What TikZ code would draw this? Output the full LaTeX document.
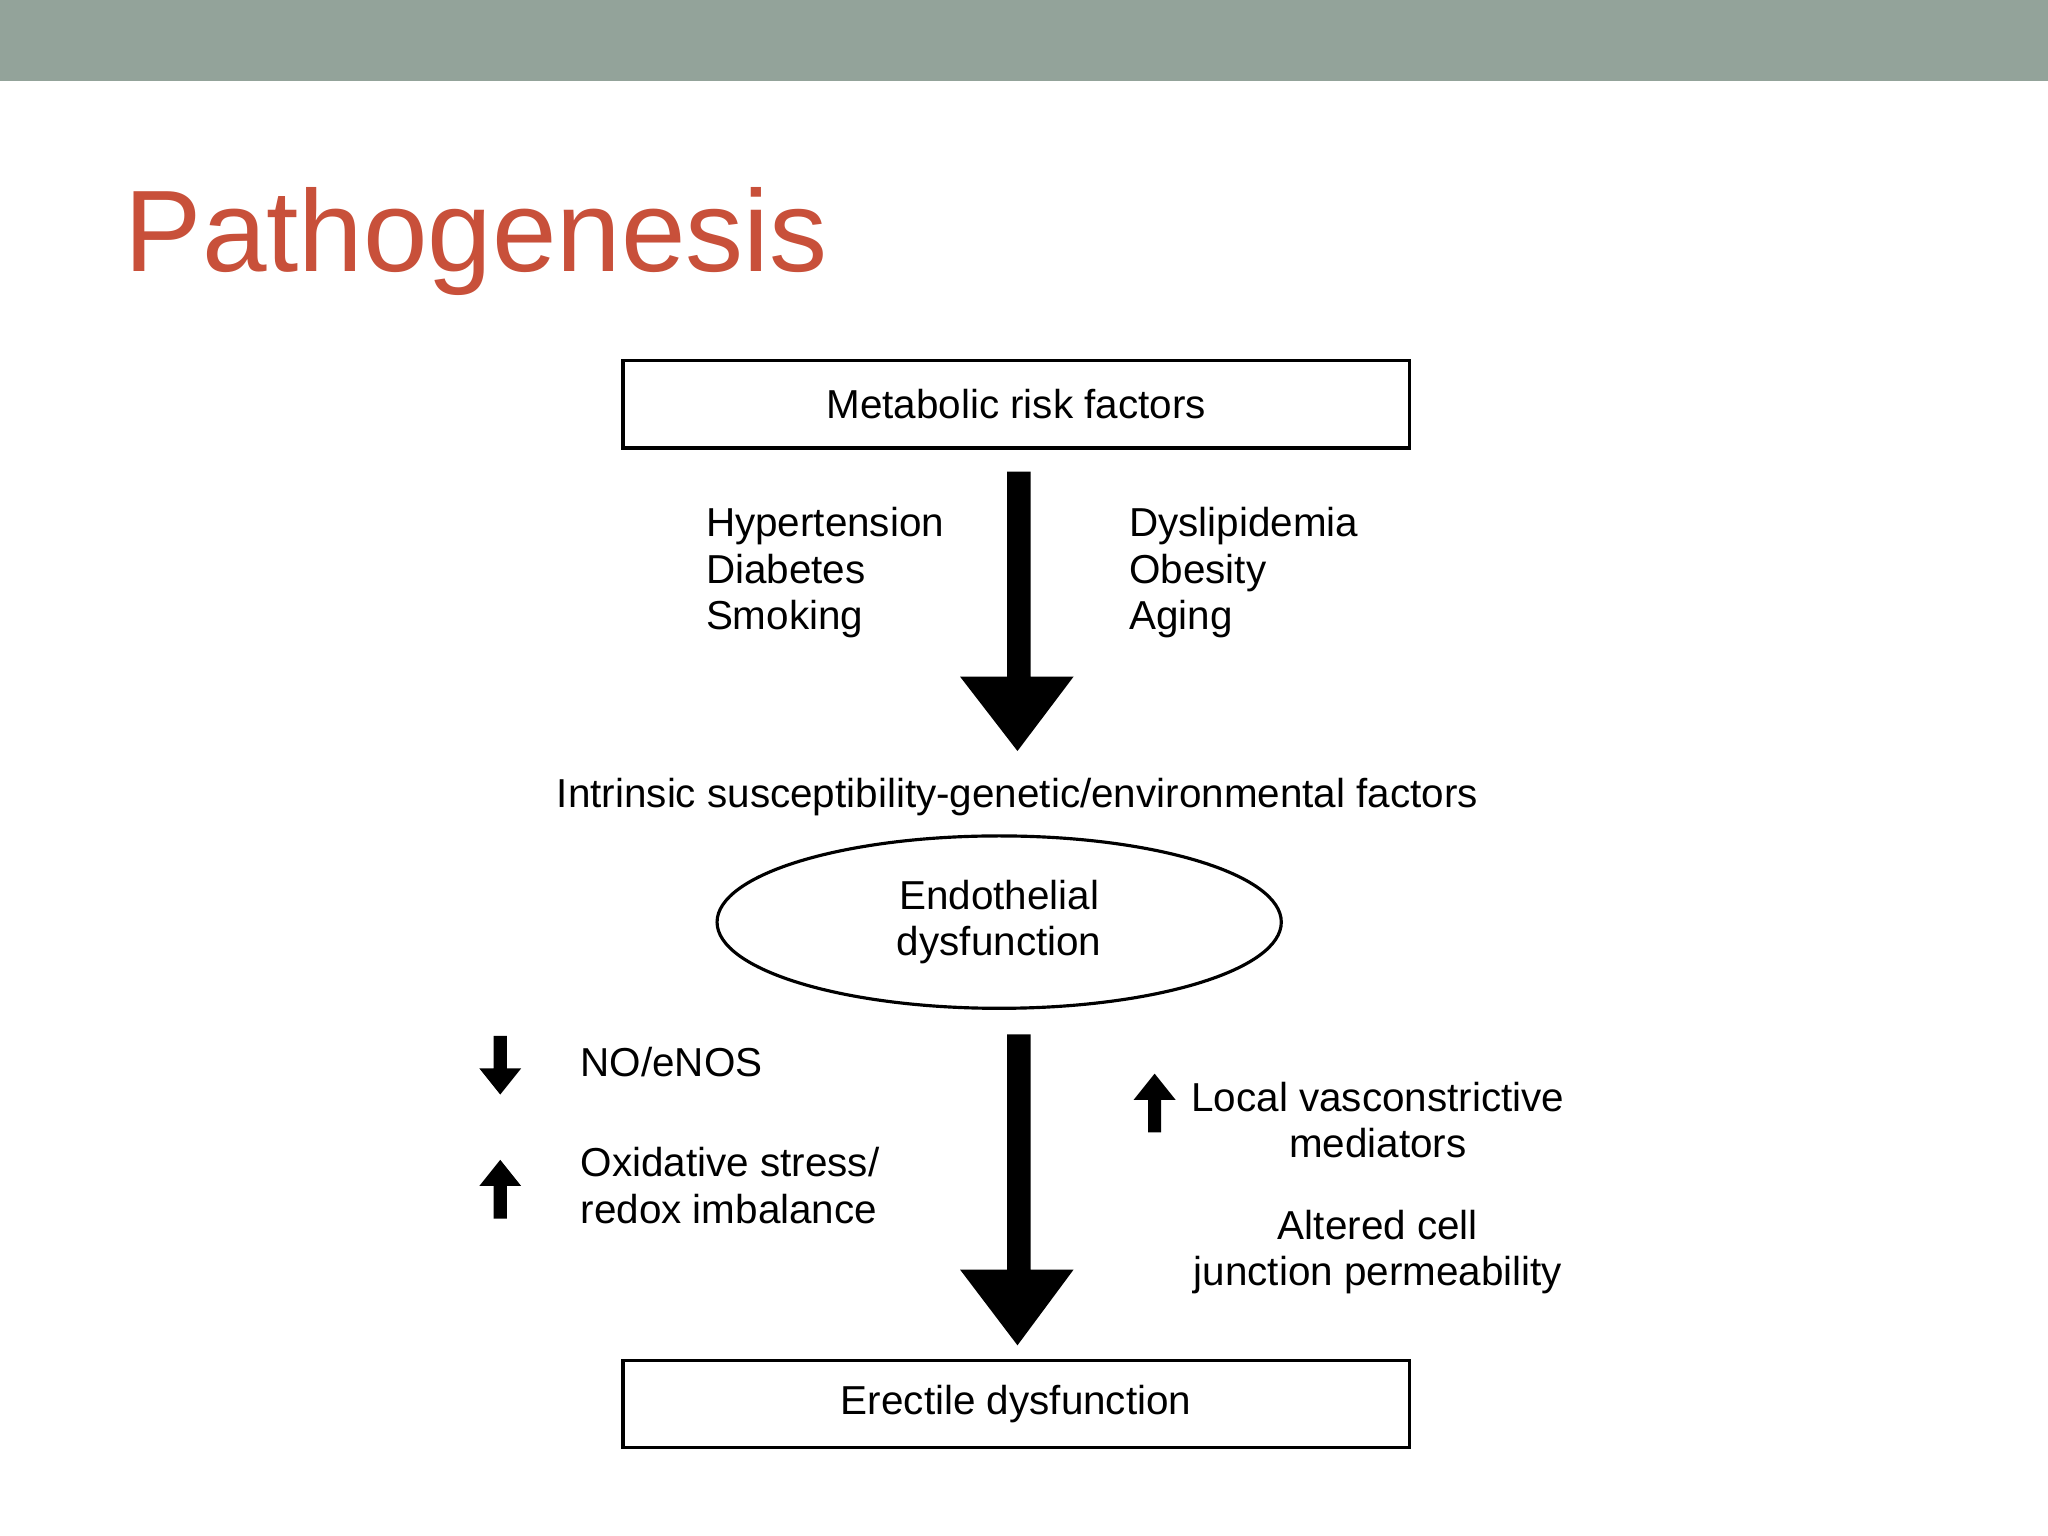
\documentclass[tikz,border=0pt]{standalone}
\usepackage{fontspec}
\setmainfont{Liberation Sans}
\usetikzlibrary{shapes.geometric}
\definecolor{bar}{HTML}{93A39A}
\definecolor{ttl}{HTML}{C8503A}
\begin{document}
\begin{tikzpicture}[x=0.013061cm,y=-0.013061cm,
  txt/.style={inner sep=0pt,font=\fontsize{11.5}{13.2}\selectfont},
  box/.style={draw,line width=0.9pt,minimum width=602*0.013061cm,minimum height=67*0.013061cm,font=\fontsize{11.5}{13.2}\selectfont},
  bigarrow/.style={fill=black},
]
\useasboundingbox (0,0) rectangle (1568,1176);
\fill[white] (0,0) rectangle (1568,1176);
\fill[bar] (0,0) rectangle (1568,62);
\node[anchor=base west,inner sep=0pt,text=ttl,font=\fontsize{33}{36}\selectfont] (title) at (95,208) {Pathogenesis};
\node[box] (mrf) at (778,309.5) {Metabolic risk factors};
\node[box] (ed) at (778,1075) {Erectile dysfunction};
\node[txt,anchor=north west,align=left] (lt) at (540,388) {Hypertension\\Diabetes\\Smoking};
\node[txt,anchor=north west,align=left] (rt) at (864,388) {Dyslipidemia\\Obesity\\Aging};
\node[txt] (isf) at (779,610) {Intrinsic susceptibility-genetic/environmental factors};
\node[draw,ellipse,line width=0.9pt,minimum width=432*0.013061cm,minimum height=132*0.013061cm,align=center,font=\fontsize{11.5}{13.2}\selectfont] (endo) at (765,706) {Endothelial\\dysfunction};
\coordinate (a1) at (780,361);
\coordinate (a2) at (780,792);
\fill (771,361) -- (789,361) -- (789,518) -- (822,518) -- (779,575) -- (735,518) -- (771,518) -- cycle;
\fill (771,792) -- (789,792) -- (789,972) -- (822,972) -- (779,1030) -- (735,972) -- (771,972) -- cycle;
% small arrows
\fill (378,793) -- (388,793) -- (388,818) -- (399,818) -- (383,838) -- (367,818) -- (378,818) -- cycle;
\fill (378,933) -- (388,933) -- (388,908) -- (399,908) -- (383,888) -- (367,908) -- (378,908) -- cycle;
\fill (879,867) -- (889,867) -- (889,842) -- (900,842) -- (884,822) -- (868,842) -- (879,842) -- cycle;
\node[txt,anchor=west] (no) at (444,813) {NO/eNOS};
\node[txt,anchor=north west,align=left] (ox) at (444,878) {Oxidative stress/\\redox imbalance};
\node[txt,anchor=north,align=center] (lv) at (1055,828) {Local vasconstrictive\\mediators};
\node[txt,anchor=north,align=center] (ac) at (1055,926) {Altered cell\\junction permeability};
\end{tikzpicture}
\end{document}
